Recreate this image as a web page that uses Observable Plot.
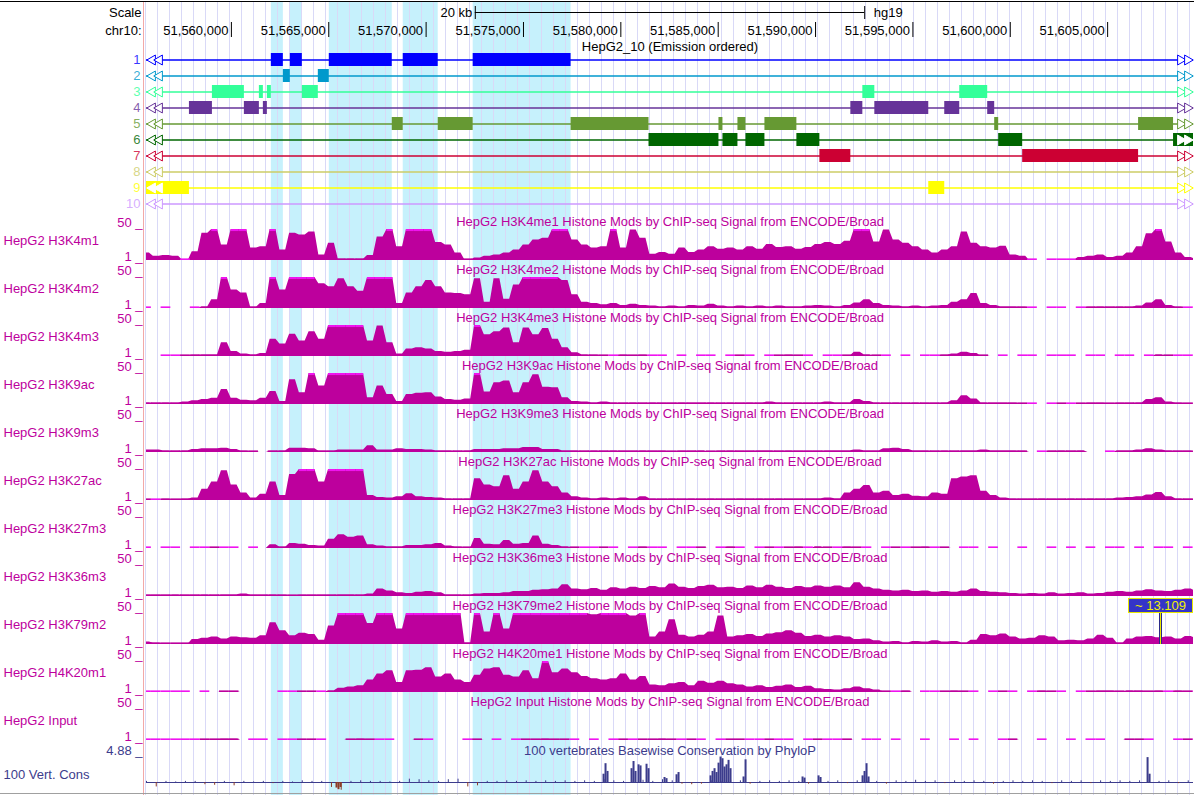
<!DOCTYPE html>
<html><head><meta charset="utf-8">
<script src="https://cdn.jsdelivr.net/npm/d3@7"></script>
<script src="https://cdn.jsdelivr.net/npm/@observablehq/plot@0.6"></script>
<style>
body{margin:0;background:#fff;}
#chart{position:relative;width:1194px;height:795px;overflow:hidden;background:#fff;font-family:"Liberation Sans",Arial,Helvetica,sans-serif;}
#chart svg{position:absolute;left:0;}
</style></head><body><div id="chart"></div>
<script>
// ---------------- data ----------------
const chromName = "chr10";
const assembly = "hg19";
const winStart = 51555640, winEnd = 51609410;
const binStart = 51555640, binSize = 500;
const rulerTicks = [51560000,51565000,51570000,51575000,51580000,51585000,51590000,51595000,51600000,51605000];
const scaleBarBp = 20000;

const hmmTitle = "HepG2_10 (Emission ordered)";
const hmmStates = ["1","2","3","4","5","6","7","8","9","10"];
const hmmColors = ["#0000FF","#0099CC","#33FF99","#663399","#669933","#006600","#CC0033","#CCCC66","#FFFF00","#CC99FF"];
const segStarts = [51555640,51557845,51559025,51560667,51561437,51561642,51561847,51562052,51562668,51563027,
  51563643,51564464,51565028,51568261,51568825,51570621,51572417,51577445,51581447,51585039,
  51585244,51586014,51586425,51587400,51589041,51590222,51591812,51592428,51593044,51595814,
  51596635,51597405,51598841,51599200,51599405,51600637,51606590,51608385];
const segStates = [9,4,3,4,3,4,3,1,2,1,3,2,1,5,1,5,1,5,6,5,6,5,6,5,6,7,4,3,4,9,4,3,4,5,6,7,5,6];

const highlightStarts = [51562052,51563027,51565028,51568825,51572417];
const highlightEnds   = [51562668,51563643,51568261,51570621,51577445];

const trackLabels = ["HepG2 H3K4m1","HepG2 H3K4m2","HepG2 H3K4m3","HepG2 H3K9ac","HepG2 H3K9m3","HepG2 H3K27ac","HepG2 H3K27m3","HepG2 H3K36m3","HepG2 H3K79m2","HepG2 H4K20m1","HepG2 Input"];
const trackTitles = ["HepG2 H3K4me1 Histone Mods by ChIP-seq Signal from ENCODE/Broad","HepG2 H3K4me2 Histone Mods by ChIP-seq Signal from ENCODE/Broad","HepG2 H3K4me3 Histone Mods by ChIP-seq Signal from ENCODE/Broad","HepG2 H3K9ac Histone Mods by ChIP-seq Signal from ENCODE/Broad","HepG2 H3K9me3 Histone Mods by ChIP-seq Signal from ENCODE/Broad","HepG2 H3K27ac Histone Mods by ChIP-seq Signal from ENCODE/Broad","HepG2 H3K27me3 Histone Mods by ChIP-seq Signal from ENCODE/Broad","HepG2 H3K36me3 Histone Mods by ChIP-seq Signal from ENCODE/Broad","HepG2 H3K79me2 Histone Mods by ChIP-seq Signal from ENCODE/Broad","HepG2 H4K20me1 Histone Mods by ChIP-seq Signal from ENCODE/Broad","HepG2 Input Histone Mods by ChIP-seq Signal from ENCODE/Broad"];
const signalMax = 50, signalMinLabel = 1;

const h3k4me1 = [12,7,8,7,0.5,14,44,55,25,55, 52,20,22,55,17,44,41,46,9,28, 2,3,2,8,38,55,22,55,55,55, 29,25,12,1,4,7,9,12,17,25,
 33,36,55,55,33,25,20,22,55,20, 49,36,10,13,10,20,13,17,22,18, 20,17,22,18,26,21,22,18,21,26, 29,26,31,55,55,30,49,33,28,22,
 17,12,17,22,46,28,22,20,23,9, 7,0,null,0,0,0.5,5,7,9,5, 7,12,22,43,55,30,12,5,2];
const h3k4me2 = [0,null,0,null,null,0,3,14,52,30, 25,2,8,55,30,55,55,52,40,35, 48,35,28,55,55,55,8,25,35,45, 35,25,24,22,48,10,48,15,38,50,
 55,55,55,45,22,10,8,6,8,5, 7,5,4,3,4,3,5,4,7,4, 3,4,3,4,3,4,3,3,4,5, 4,3,5,9,14,8,5,4,3,4,
 3,4,5,10,14,24,8,5,3,3, 2,0,null,0,0,null,0,2,3,2, 3,2,4,9,14,5,2,0,0];
const h3k4me3 = [null,null,0,0,1,2,3,3,22,8, 4,3,5,28,20,36,25,40,28,50, 55,55,52,25,49,22,4,12,14,12, 8,7,8,10,55,35,40,46,22,46,
 35,45,28,14,6,3,2,1,0,2, 1,2,0,0,null,0,null,0,0,null, 0,1,0,null,0,1,2,1,0,null, 0,0,1,7,3,1,0,null,0,null,
 0,0,2,4,7,5,1,null,0,null, 0,0,null,0,0,0,null,0,0,null, 0,0,null,0,3,1,0,0,0];
const h3k9ac = [3,2,3,2,4,6,8,10,24,10, 7,6,10,21,5,40,19,55,30,55, 55,55,55,11,30,16,5,16,18,19, 12,8,7,9,55,20,35,38,19,35,
 48,28,27,11,5,4,3,4,3,2, 3,2,3,2,2,3,2,2,3,2, 3,2,3,2,4,3,2,3,2,3, 4,3,3,8,5,3,2,3,2,3,
 2,2,3,6,14,9,3,2,2,2, 1,0,null,0,1,0,1,2,2,1, 2,2,3,8,11,4,2,1,1];
const h3k9me3 = [4,4,3,2,3,5,6,6,7,5, 2,1,null,2,3,7,7,6,2,2, 4,4,4,11,4,4,6,5,5,4, 3,3,2,3,5,5,5,6,6,8,
 8,5,5,3,3,2,3,2,3,2, 2,3,2,2,1,2,2,3,1,2, 3,2,2,3,3,2,3,2,2,2, 3,3,3,4,3,3,6,7,5,3,
 3,2,3,2,3,3,4,3,3,3, 2,null,0,2,3,2,3,null,null,0, 3,3,4,6,4,3,2,2,1];
const h3k27ac = [1,0,2,1,2,4,18,30,48,25, 12,4,10,30,8,42,55,55,30,55, 55,55,55,8,5,4,6,11,6,5, 4,3,2,3,35,25,22,40,18,30,
 48,30,22,12,6,4,3,4,3,4, 2,6,3,2,3,2,3,2,3,2, 2,3,2,3,2,3,2,2,3,3, 4,3,12,18,24,12,15,8,10,7,
 6,12,10,35,38,40,15,8,4,3, 2,2,3,2,2,3,2,3,2,3, 4,5,6,9,13,6,3,2,2];
const h3k27me3 = [0,null,0,0,null,0,0,1,0,0, null,0,null,6,2,8,7,5,4,15, 22,18,20,6,4,3,3,5,5,6, 8,4,2,1,16,7,6,13,7,8,
 20,7,5,3,1,0,0,1,0,null, 0,2,0,0,null,0,0,1,null,0, 2,0,null,0,1,0,1,2,0,3, 1,0,2,1,0,null,0,1,0,1,
 2,0,1,null,0,0,null,0,null,null, 0,null,null,0,null,0,null,0,null,0, 0,null,0,null,0,0,null,0,null];
const h3k36me3 = [2,2,2,3,2,2,3,2,3,3, 4,2,2,3,2,1,2,2,2,2, 3,3,2,4,12,9,6,5,7,8, 6,3,3,2,4,5,5,6,8,8,
 10,11,12,19,12,11,13,10,14,12, 15,13,16,14,20,15,13,16,18,14, 15,13,17,14,18,15,13,16,14,17, 15,17,14,22,15,12,10,9,10,8,
 9,7,8,7,9,12,8,7,6,5, 4,5,4,6,4,5,6,4,5,7, 8,7,9,11,9,8,10,12,9];
const h3k79me2 = [4,2,1,1,1,8,10,12,9,12, 11,10,14,35,22,14,18,16,7,30, 55,55,55,34,55,55,25,55,55,55, 55,55,55,3,55,20,55,25,55,55,
 55,55,55,55,55,55,48,55,55,55, 46,50,12,20,40,15,12,15,20,46, 12,14,16,13,17,19,22,18,13,15, 12,14,12,8,9,6,4,5,3,5,
 4,6,4,5,3,7,16,14,17,12, 9,10,14,12,6,7,6,9,15,10, 2,9,12,13,11,12,9,13,10];
const h4k20me1 = [0,0,0,0,0,null,0,null,1,1, null,null,null,null,0,0,1,1,0,3, 7,9,11,20,30,35,16,35,36,40, 25,30,20,16,28,38,40,28,25,35,
 22,50,32,38,32,26,22,20,22,30, 20,26,12,11,14,16,11,18,15,18, 14,12,9,11,8,10,12,8,10,6, 5,4,6,9,6,4,1,0,2,null,
 0,0,1,2,1,0,null,0,1,0, null,0,2,1,0,null,0,1,2,2, 1,3,2,1,2,0,2,1,0];
const inputSignal = [0,0,0,0,0,0,1,1,2,2, null,0,0,null,0,0,1,1,0,null, null,1,2,1,0,0,null,null,1,0, null,null,null,0,1,null,0,null,0,1,
 1,2,1,1,0,null,0,null,0,1, 0,1,1,2,1,0,1,0,null,0, 1,1,0,0,1,0,0,null,0,1, 0,0,1,null,0,0,null,0,null,null,
 0,null,null,0,null,0,null,null,0,1, null,null,0,null,null,0,null,0,0,null, null,1,1,0,null,null,0,1,0];

const consLabel = "100 Vert. Cons";
const consTitle = "100 vertebrates Basewise Conservation by PhyloP";
const consMax = 4.88;
const consBins = [0.2,-0.8,0.2,0.1,0.2,0.2,-0.4,-0.5,0.2,-0.6, 0.2,0.1,0.2,-0.2,0.2,0.1,0.3,0.2,0.2,-0.9, -1.4,0.2,0.3,0.2,0.2,0.1,0.2,0.6,0.5,0.3,
 0.2,0.5,0.6,-0.8,-0.6,0.2,0.2,0.3,0.2,0.3, 0.2,0.3,0.2,0.3,0.2,0.3,0.2,0.5,0.3,0.2, 0.3,0.4,0.2,0.5,0.3,-0.3,-0.4,-0.3,0.3,0.2,
 0.4,0.3,-0.3,0.2,0.3,0.2,0.3,0.2,-0.3,0.3, 0.2,0.3,-0.2,0.3,0.2,0.2,-0.3,0.3,0.2,0.4, 0.2,0.3,-0.2,0.3,0.2,0.3,0.2,-0.3,0.2,0.3,
 0.2,0.3,0.2,-0.2,0.3,0.2,0.3,-0.2,0.3,0.2, 0.3,0.2,0.3,0.4,0.2,0.3,-0.2,0.3,0.2];
const consPeakPos = [51565398,51565501,51565604,51579112,51579214,51579317,51580550,51580652,51580755,51580909,51581012,51581320,51581423,
 51582244,51582347,51582861,51582964,51584607,51584710,51584812,51584915,51585018,51585121,51585223,51585326,51585429,51585532,51585634,
 51586302,51586405,51589332,51589435,51590154,51590257,51592414,51592516,51592619,51592722,51607051,51607154];
const consPeakVal = [-1.0,-1.3,-0.9,1.5,3.4,2.0,2.5,3.8,2.0,3.2,3.0,3.3,2.5,
 0.9,0.7,1.4,1.8,1.2,2.0,2.5,1.8,3.5,4.6,4.3,2.8,3.2,4.0,2.5,
 1.0,4.1,1.0,0.8,1.2,0.9,1.2,2.0,3.4,1.0,4.5,1.5];

const tooltipPos = 51607719, tooltipValue = 13.109;

// ---------------- styles ----------------
const W = 1194, H = 795, X0 = 146, X1 = 1193;
const FONT = '"Liberation Sans", Arial, Helvetica, sans-serif';
const FS = 13;
const SIG = "#BD009D", CLIP = "#F014F0", HL = "#C6F1FC", GUIDE = "#D9D9F7";
const CONS = "#3C3C8C", CONS_NEG = "#8C3C28";
const TRACK_TOP = 213, TRACK_H = 48;
const FLAT = 0.3; // half-width of each bin's flat top, as a fraction of the bin

const chart = document.getElementById("chart");
function place(el, top) { el.style.top = top + "px"; chart.appendChild(el); }
const xOpt = {domain: [winStart, winEnd], range: [X0, X1], axis: null};
const baseStyle = {background: "transparent", overflow: "visible", fontFamily: FONT, fontSize: FS + "px"};
const mid = (winStart + winEnd) / 2;

// ---------------- backdrop: highlights + guidelines ----------------
const bpPerPx = (winEnd - winStart) / (X1 - X0);
const guides = d3.range(145, X1, 12).map(p => winStart + (p - X0) * bpPerPx);
const hl = highlightStarts.map((s, i) => ({start: s, end: highlightEnds[i]}));
place(Plot.plot({
  width: W, height: H, marginLeft: X0, marginRight: W - X1, marginTop: 2, marginBottom: 0,
  style: baseStyle, x: xOpt, y: {axis: null},
  marks: [
    Plot.rect(hl, {x1: "start", x2: "end", fill: HL}),
    Plot.ruleX(guides, {stroke: GUIDE, strokeWidth: 1})
  ]
}), 0);

// ---------------- ruler ----------------
const barStart = mid - scaleBarBp / 2, barEnd = mid + scaleBarBp / 2;
place(Plot.plot({
  width: W, height: 52, marginLeft: X0, marginRight: W - X1, marginTop: 0, marginBottom: 0,
  style: baseStyle, x: xOpt, y: {type: "identity", axis: null},
  marks: [
    Plot.text(["Scale"], {x: winStart, y: 12, dx: -5, textAnchor: "end", fontSize: FS, fill: "black"}),
    Plot.text([chromName + ":"], {x: winStart, y: 30, dx: -5, textAnchor: "end", fontSize: FS, fill: "black"}),
    Plot.ruleY([12], {x1: barStart, x2: barEnd, stroke: "black"}),
    Plot.ruleX([barStart, barEnd], {y1: 6, y2: 19, stroke: "black"}),
    Plot.text([(scaleBarBp / 1000) + " kb"], {x: barStart, y: 12, dx: -3, textAnchor: "end", fontSize: FS, fill: "black"}),
    Plot.text([assembly], {x: barEnd, y: 12, dx: 9, textAnchor: "start", fontSize: FS, fill: "black"}),
    Plot.ruleX(rulerTicks, {y1: 22, y2: 37, stroke: "black"}),
    Plot.text(rulerTicks, {x: d => d, y: 30, text: d => d3.format(",")(d), dx: -3, textAnchor: "end", fontSize: FS, fill: "black"})
  ]
}), 0);

// ---------------- HMM segmentation ----------------
const segs = segStarts.map((s, i) => ({start: s, end: i + 1 < segStarts.length ? segStarts[i + 1] : winEnd, state: String(segStates[i])}));
const firstState = segs[0].state, lastState = segs[segs.length - 1].state;
const colorOf = st => hmmColors[hmmStates.indexOf(st)];
const arrowStrokeL = st => st === firstState ? "white" : colorOf(st);
const arrowStrokeR = st => st === lastState ? "white" : colorOf(st);
place(Plot.plot({
  width: W, height: 213, marginLeft: X0, marginRight: W - X1, marginTop: 52, marginBottom: 1,
  style: baseStyle, x: xOpt,
  y: {type: "band", domain: hmmStates, range: [52, 212], paddingInner: 0.16, paddingOuter: 0.08, axis: null},
  color: {type: "identity"},
  marks: [
    Plot.text([hmmTitle], {x: mid, frameAnchor: "top", lineAnchor: "middle", dy: -6, fontSize: FS, fill: "black"}),
    Plot.ruleY(hmmStates, {y: d => d, stroke: d => colorOf(d), strokeWidth: 1.3}),
    Plot.barX(segs, {x1: "start", x2: "end", y: "state", fill: d => colorOf(d.state)}),
    Plot.dot(hmmStates, {x: winStart, y: d => d, dx: 6, symbol: "triangle", rotate: -90, r: 3.7, stroke: arrowStrokeL, fill: "white", strokeWidth: 1}),
    Plot.dot(hmmStates, {x: winStart, y: d => d, dx: 13, symbol: "triangle", rotate: -90, r: 3.7, stroke: arrowStrokeL, fill: "white", strokeWidth: 1}),
    Plot.dot(hmmStates, {x: winEnd, y: d => d, dx: -13, symbol: "triangle", rotate: 90, r: 3.7, stroke: arrowStrokeR, fill: "white", strokeWidth: 1}),
    Plot.dot(hmmStates, {x: winEnd, y: d => d, dx: -6, symbol: "triangle", rotate: 90, r: 3.7, stroke: arrowStrokeR, fill: "white", strokeWidth: 1}),
    Plot.text(hmmStates, {x: winStart, y: d => d, text: d => d, dx: -6, textAnchor: "end", fontSize: FS, fill: d => colorOf(d), fillOpacity: 0.8})
  ]
}), 0);

// ---------------- signal tracks ----------------
const signals = [h3k4me1, h3k4me2, h3k4me3, h3k9ac, h3k9me3, h3k27ac, h3k27me3, h3k36me3, h3k79me2, h4k20me1, inputSignal];
signals.forEach((vals, k) => {
  const data = vals.map((v, i) => ({pos: binStart + i * binSize, v}));
  // each bin is drawn with a flat top over its central part, sloping to its neighbours
  const shape = data.flatMap(d => [{pos: d.pos - FLAT * binSize, v: d.v}, {pos: d.pos + FLAT * binSize, v: d.v}]);
  const isClip = i => i >= 0 && i < data.length && data[i].v != null && data[i].v >= signalMax;
  const topClip = data.map((d, i) => ({d, i})).filter(o => isClip(o.i)).map(o => ({
    x1: o.d.pos - (isClip(o.i - 1) ? binSize / 2 : FLAT * binSize),
    x2: o.d.pos + (isClip(o.i + 1) ? binSize / 2 : FLAT * binSize)
  }));
  const low0 = data.filter(d => d.v != null && d.v < 1);
  const low1 = data.filter(d => d.v != null && d.v >= 1 && d.v < 3);
  const half = binSize / 2;
  const plot = Plot.plot({
    width: W, height: TRACK_H, marginLeft: X0, marginRight: W - X1, marginTop: 16, marginBottom: 1,
    style: baseStyle, x: xOpt, y: {domain: [0, signalMax], clamp: true, axis: null},
    marks: [
      Plot.areaY(shape, {x: "pos", y: "v", fill: SIG, curve: "linear", clip: true}),
      Plot.rect(topClip, {x1: "x1", x2: "x2", y1: signalMax - 3.3, y2: signalMax, fill: CLIP, clip: true}),
      Plot.rect(low1, {x1: d => d.pos - half, x2: d => d.pos + half, y1: 0, y2: 2.6, fill: SIG, clip: true}),
      Plot.rect(low0, {x1: d => d.pos - half, x2: d => d.pos + half, y1: 0, y2: 2.6, fill: CLIP, clip: true}),
      Plot.text([trackTitles[k]], {x: mid, frameAnchor: "top", lineAnchor: "middle", dy: -8, fontSize: FS, fill: SIG}),
      Plot.text([signalMax + " _"], {x: winStart, y: signalMax, dx: -4, dy: -7, textAnchor: "end", fontSize: FS, fill: SIG}),
      Plot.text([signalMinLabel + " _"], {x: winStart, y: signalMinLabel, dx: -4, dy: -3, textAnchor: "end", fontSize: FS, fill: SIG}),
      Plot.text([trackLabels[k]], {x: winStart, frameAnchor: "top", lineAnchor: "middle", dy: 11, dx: -(X0 - 3), textAnchor: "start", fontSize: FS, fill: SIG})
    ]
  });
  place(plot, TRACK_TOP + k * TRACK_H);
  if (k === 8) {
    const px = plot.scale("x").apply(tooltipPos);
    const t0 = TRACK_TOP + k * TRACK_H;
    const line = document.createElement("div");
    line.style.cssText = `position:absolute;left:${px - 1}px;top:${t0 + 15}px;width:1px;height:${TRACK_H - 16}px;background:#E8E800;border-left:1px solid #2a2a8a;border-right:1px solid #2a2a8a;`;
    chart.appendChild(line);
    const box = document.createElement("div");
    box.textContent = "~ " + tooltipValue;
    box.style.cssText = `position:absolute;left:${px - 32}px;top:${t0 + 1}px;width:63px;height:13px;background:#3434C8;border:1px solid #E8E800;color:#F0F000;font:${FS}px ${FONT};line-height:13px;text-align:center;`;
    chart.appendChild(box);
  }
});

// ---------------- conservation ----------------
const consData = consBins.map((v, i) => ({pos: binStart + i * binSize, v}));
const consPeaks = consPeakPos.map((p, i) => ({pos: p, v: consPeakVal[i]}));
const CT = TRACK_TOP + signals.length * TRACK_H;
place(Plot.plot({
  width: W, height: H - CT, marginLeft: X0, marginRight: W - X1, marginTop: 14, marginBottom: 0,
  style: baseStyle, x: xOpt, y: {domain: [-consMax, consMax], range: [68, 14], axis: null},
  color: {type: "identity"},
  marks: [
    Plot.ruleY([0], {stroke: CONS, strokeWidth: 1}),
    Plot.ruleX(consData, {x: "pos", y1: 0, y2: "v", stroke: d => d.v >= 0 ? CONS : CONS_NEG, strokeWidth: 1}),
    Plot.ruleX(consPeaks, {x: "pos", y1: 0, y2: "v", stroke: d => d.v >= 0 ? CONS : CONS_NEG, strokeWidth: 2}),
    Plot.text([consTitle], {x: mid, frameAnchor: "top", lineAnchor: "middle", dy: -5, fontSize: FS, fill: CONS}),
    Plot.text([consMax + " _"], {x: winStart, y: consMax, dx: -4, dy: -5, textAnchor: "end", fontSize: FS, fill: CONS}),
    Plot.text([consLabel], {x: winStart, frameAnchor: "top", lineAnchor: "middle", dy: 19, dx: -(X0 - 3), textAnchor: "start", fontSize: FS, fill: CONS})
  ]
}), CT);

// ---------------- borders ----------------
const topLine = document.createElement("div");
topLine.style.cssText = "position:absolute;left:0;top:1px;width:1194px;height:1px;background:#000;";
chart.appendChild(topLine);
const sep = document.createElement("div");
sep.style.cssText = "position:absolute;left:143px;top:2px;width:1px;height:793px;background:#F2A8A8;";
chart.appendChild(sep);
const bottomLine = document.createElement("div");
bottomLine.style.cssText = "position:absolute;left:0;top:793px;width:1194px;height:1px;background:#A0A0A0;";
chart.appendChild(bottomLine);
</script></body></html>
